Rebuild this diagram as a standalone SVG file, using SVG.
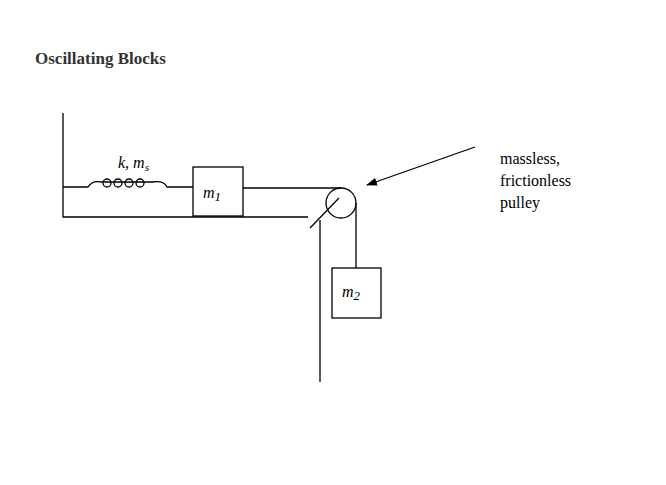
<svg xmlns="http://www.w3.org/2000/svg" width="666" height="485" viewBox="0 0 666 485">
<defs><marker id="ah" markerWidth="11" markerHeight="8" refX="10" refY="4" orient="auto" markerUnits="userSpaceOnUse"><path d="M0,0 L11,4 L0,8 Z" fill="#000"/></marker></defs>
<style>.l{stroke:#000;stroke-width:1.3;fill:none}.t{font-family:"Liberation Serif",serif;font-size:16px}</style>
<rect width="666" height="485" fill="#fff"/>
<text x="35" y="64" font-family="Liberation Serif,serif" font-size="17" font-weight="bold" fill="#333">Oscillating Blocks</text>
<g id="wall"><path class="l" d="M63,113 V217 H308"/></g>
<g id="spring"><path class="l" d="M63,187 H88 q4,-7 14,-5 H152 q12,-2 15,5 H193"/>
<path class="l" d="M103,183 a4,4 0 1 0 8,0 a4,4 0 1 0 -8,0 M114,183 a4,4 0 1 0 8,0 a4,4 0 1 0 -8,0 M125,183 a4,4 0 1 0 8,0 a4,4 0 1 0 -8,0 M136,183 a4,4 0 1 0 8,0 a4,4 0 1 0 -8,0"/>
<text class="t" x="118" y="168" font-style="italic" font-size="18">k, m<tspan font-size="11" dy="3">s</tspan></text></g>
<g id="m1"><rect class="l" x="193" y="167" width="50" height="49"/><text class="t" x="203" y="198" font-style="italic" font-size="19">m<tspan font-size="13" dy="3">1</tspan></text></g>
<g id="pulley"><circle class="l" cx="341" cy="203" r="15"/><path class="l" d="M310,228 L339,198" stroke-width="2.2"/><path class="l" d="M320,220 V382"/></g>
<g id="m2"><rect class="l" x="332" y="268" width="49" height="50"/><text class="t" x="342" y="297" font-style="italic" font-size="19">m<tspan font-size="13" dy="3">2</tspan></text></g>
<g id="connectors"><path class="l" d="M243,188 H341 M356,203 V268"/><path class="l" d="M475,147 L367,185" marker-end="url(#ah)"/></g>
<g id="label"><text class="t" x="500" y="164">massless,</text><text class="t" x="500" y="186">frictionless</text><text class="t" x="500" y="208">pulley</text></g>
</svg>
